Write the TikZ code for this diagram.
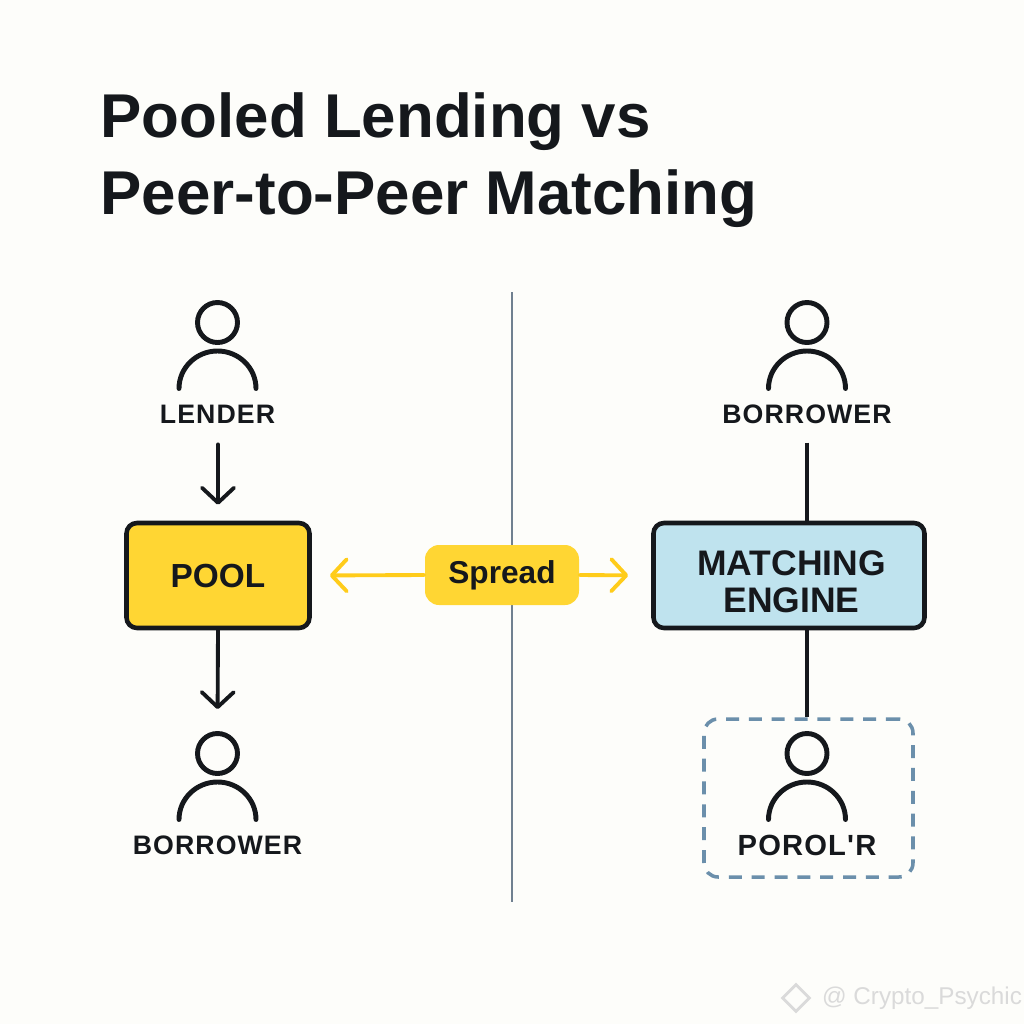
\documentclass[tikz,border=0pt]{standalone}
\usepackage{fontspec}
\setmainfont{Liberation Sans}
\usepackage{xcolor}
\usepackage{tikz}
\usetikzlibrary{shapes.geometric,arrows.meta,positioning,calc}

\definecolor{paper}{HTML}{FDFDFA}
\definecolor{ink}{HTML}{15181C}
\definecolor{poolyellow}{HTML}{FFD633}
\definecolor{spreadline}{HTML}{FFCC1A}
\definecolor{enginecyan}{HTML}{BFE3EE}
\definecolor{dashblue}{HTML}{6B8FAB}
\definecolor{rulegray}{HTML}{708090}
\definecolor{markgray}{HTML}{DADADA}

\newfontfamily\labelfont[LetterSpace=4]{Liberation Sans}

% head, shoulders and caption of one person
\newcommand{\person}[3]{
  \node[headnode] (#1head) at (#2) {};
  \draw[iconline] ($(#1head.center)+(-.385,-.66)$) arc[start angle=180, end angle=0, x radius=.385, y radius=.375];
  \node[caption, below=.815cm of #1head.center, anchor=center] (#1) {#3};
}

\begin{document}
\begin{tikzpicture}[
  headnode/.style={circle, draw=ink, line width=1.4pt, minimum size=.4cm, inner sep=0pt},
  iconline/.style={draw=ink, line width=1.4pt, line cap=round},
  caption/.style={font=\labelfont\bfseries\fontsize{7.6}{10}\selectfont, text=ink, inner sep=0pt, yshift=-.105cm},
  block/.style={draw=ink, line width=1.3pt, rounded corners=3pt, minimum height=1.05cm, align=center, text=ink, font=\bfseries\fontsize{9.5}{10.5}\selectfont},
  arr/.style={-{Straight Barb[length=1.5mm, width=3.2mm, round]}, draw=ink, line width=1.1pt, line cap=round},
  link/.style={draw=ink, line width=1.1pt},
  sarr/.style={-{Straight Barb[length=1.5mm, width=3.2mm, round]}, draw=spreadline, line width=1.1pt, line cap=round}
]
\useasboundingbox (0,0) rectangle (10.24,-10.24);
\fill[paper] (0,0) rectangle (10.24,-10.24);

\node[anchor=north west, align=left, inner sep=0pt, text=ink, font=\bfseries\fontsize{17.6}{22}\selectfont] (title) at (1.0,-.92) {Pooled Lending vs\\Peer-to-Peer Matching};

% divider
\coordinate (railtop) at (5.12,-2.92);
\coordinate (railend) at (5.12,-9.02);
\draw[rulegray, line width=.6pt] (railtop) -- (railend);

% blocks
\node[block, fill=poolyellow, minimum width=1.83cm] (pool) at (2.18,-5.755) {POOL};
\node[block, fill=enginecyan, minimum width=2.71cm, font=\bfseries\fontsize{10.1}{10.5}\selectfont] (engine) at (7.89,-5.755) {\hspace*{1.4pt}\rule{0pt}{10.5pt}MATCHING\\\hspace*{1.4pt}ENGINE};
\node[fill=poolyellow, rounded corners=4pt, minimum width=1.54cm, minimum height=.6cm, inner sep=0pt, text=ink, font=\bfseries\fontsize{9}{10}\selectfont] (spread) at (5.02,-5.75) {\raisebox{-.6pt}{Spread}};

% people
\person{lender}{2.175,-3.225}{LENDER}
\person{poolborrower}{2.175,-7.535}{BORROWER}
\person{borrower}{8.07,-3.225}{BORROWER}
\person{porolr}{8.07,-7.535}{\fontsize{8.3}{10}\selectfont POROL'R}

\node[draw=dashblue, dashed, dash pattern=on 3.7pt off 2.8pt, line width=1pt, rounded corners=4pt, minimum width=2.09cm, minimum height=1.58cm, inner sep=0pt] (dashbox) at (8.085,-7.98) {};

% connectors
\draw[arr, shorten <=.2cm, shorten >=.16cm] (lender.south -| pool.north) -- (pool.north);
\draw[arr, shorten >=.22cm] (pool.south) -- (poolborrowerhead.north);
\draw[link, shorten <=.18cm] (borrower.south) -- (borrower.south |- engine.north);
\draw[link] (porolrhead.north |- engine.south) -- (porolrhead.north |- dashbox.north);
\draw[sarr, shorten >=.18cm] (spread.west) -- (pool.east);
\draw[sarr, shorten >=.23cm] (spread.east) -- (engine.west);

% watermark
\node[diamond, draw=markgray, line width=.8pt, minimum size=.28cm, inner sep=0pt] (markicon) at (7.96,-9.98) {};
\node[right=.1cm of markicon, inner sep=0pt, text=markgray, font=\fontsize{6.9}{10}\selectfont] (mark) {@ Crypto\_Psychic};

\end{tikzpicture}
\end{document}
